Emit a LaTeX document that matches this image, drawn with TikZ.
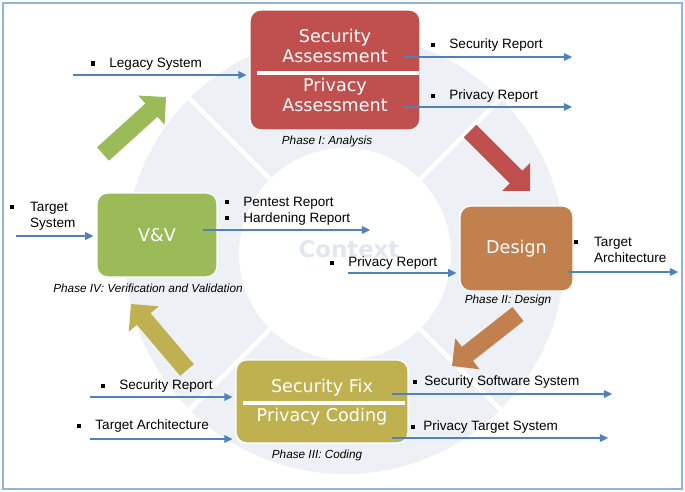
\documentclass[tikz,border=0pt]{standalone}
\usepackage{fontspec}
\setmainfont{Liberation Sans}
\newfontfamily\boxfont{DejaVu Sans}
\usetikzlibrary{arrows.meta,calc}
\definecolor{phasered}{RGB}{192,80,77}
\definecolor{phaseorange}{RGB}{193,128,77}
\definecolor{phaseolive}{RGB}{191,177,80}
\definecolor{phasegreen}{RGB}{155,187,89}
\definecolor{flowblue}{RGB}{79,129,189}
\definecolor{frameblue}{RGB}{141,180,226}
\definecolor{ringgray}{RGB}{237,241,246}
\definecolor{ringtext}{RGB}{224,231,240}
\tikzset{phase box/.style = {rounded corners = 6pt, draw = white, line width = 0.8pt, inner sep = 0pt}}
\tikzset{box text/.style = {text = white, align = center, inner sep = 0pt, font = \boxfont\fontsize{10}{11.3}\selectfont}}
\tikzset{item text/.style = {anchor = west, inner sep = 0pt, align = left, font = \fontsize{7.7}{9}\selectfont}}
\tikzset{phase caption/.style = {inner sep = 0pt, font = \fontsize{6.7}{8}\selectfont\itshape}}
\tikzset{flow/.style = {draw = flowblue, line width = 1.1pt, shorten > = 1.5pt, -{Triangle[length = 4.8pt, width = 4.2pt]}}}
\tikzset{divider/.style = {draw = white, line width = 1.8pt}}
\newcommand{\sq}{\rule[0.25ex]{2.3pt}{2.3pt}}
% block arrow between phases: colour, tail, tip
\newcommand{\phasearrow}[3]{%
  \coordinate (hb) at ($(#3)!11.2pt!(#2)$);
  \fill [#1] ($(#2)!5.1pt!90:(#3)$) -- ($(hb)!5.1pt!-90:(#2)$) -- ($(hb)!11.2pt!-90:(#2)$) -- (#3)
    -- ($(hb)!11.2pt!90:(#2)$) -- ($(hb)!5.1pt!90:(#2)$) -- ($(#2)!5.1pt!-90:(#3)$) -- cycle;}

\begin{document}
\begin{tikzpicture}[x = 0.02cm, y = -0.02cm]

  \useasboundingbox (0 , 0) rectangle (685 , 492);

  % faded background ring
  \coordinate (hub) at (345 , 254);
  \fill [ringgray, even odd rule] (hub) circle [radius = 220] (hub) circle [radius = 106];
  \foreach \a in {45 , 135 , 225 , 315}
    \draw [white, line width = 2.5pt] ($(hub) + (\a : 106)$) -- ($(hub) + (\a : 220)$);
  \node [text = ringtext, font = \boxfont\bfseries\fontsize{13}{15}\selectfont] (ctx) at (349 , 249) {Context};

  \draw [frameblue, line width = 1.2pt] (3 , 3) rectangle (682 , 489);

  % phase boxes
  \node [phase box, fill = phasered, minimum width = 3.4cm, minimum height = 2.4cm] (analysis) at (335 , 70) {};
  \node [box text] (secassess) at (335 , 46) {Security\\Assessment};
  \node [box text] (privassess) at (335 , 95) {Privacy\\Assessment};
  \draw [divider] ($(analysis.west) + (8 , 3)$) -- ($(analysis.east) + (-2 , 3)$);
  \node [phase caption] (analysiscap) at (327 , 141) {Phase I: Analysis};

  \node [phase box, fill = phaseorange, minimum width = 2.26cm, minimum height = 1.7cm, box text] (design) at (516.5 , 248.5) {Design};
  \node [phase caption] (designcap) at (508 , 300) {Phase II: Design};

  \node [phase box, fill = phaseolive, minimum width = 3.44cm, minimum height = 1.66cm] (coding) at (322 , 401.5) {};
  \node [box text] (secfix) at (322 , 388) {Security Fix};
  \node [box text] (privcoding) at (322 , 417) {Privacy Coding};
  \draw [divider] ($(coding.west) + (8 , 1.5)$) -- ($(coding.east) + (-4 , 1.5)$);
  \node [phase caption] (codingcap) at (317 , 455) {Phase III: Coding};

  \node [phase box, fill = phasegreen, minimum width = 2.4cm, minimum height = 1.68cm, box text] (vv) at (157 , 235) {V\&V};
  \node [phase caption] (vvcap) at (148 , 288) {Phase IV: Verification and Validation};

  % block arrows
  \coordinate (redtail) at (470 , 131);    \coordinate (redtip) at (530 , 191);
  \coordinate (orangetail) at (518 , 314); \coordinate (orangetip) at (452 , 366);
  \coordinate (olivetail) at (187 , 370);  \coordinate (olivetip) at (131 , 304);
  \coordinate (greentail) at (103 , 154);  \coordinate (greentip) at (166 , 97);
  \phasearrow{phasered}{redtail}{redtip}
  \phasearrow{phaseorange}{orangetail}{orangetip}
  \phasearrow{phaseolive}{olivetail}{olivetip}
  \phasearrow{phasegreen}{greentail}{greentip}

  % inputs and outputs
  \node [item text] (legacy) at (91 , 64) {\sq\hspace{8pt}Legacy System};
  \coordinate (legacysrc) at (73 , 75);
  \draw [flow] (legacysrc) -- (legacysrc -| analysis.west);

  \node [item text] (secrep) at (431 , 45) {\sq\hspace{8pt}Security Report};
  \coordinate (secrepsrc) at (403 , 57);   \coordinate (secrepdst) at (575 , 57);
  \draw [flow] (secrepsrc) -- (secrepdst);

  \node [item text] (privrep) at (431 , 96) {\sq\hspace{8pt}Privacy Report};
  \coordinate (privrepsrc) at (403 , 107); \coordinate (privrepdst) at (575 , 107);
  \draw [flow] (privrepsrc) -- (privrepdst);

  \node [item text] (designin) at (330 , 263) {\sq\hspace{8pt}Privacy Report};
  \coordinate (designsrc) at (348 , 273);
  \draw [flow] (designsrc) -- (designsrc -| design.west);

  \node [item text] (designout) at (574 , 251) {\begin{tabular}{@{}l@{\hspace{9pt}}l@{}}\sq & Target\\ & Architecture\end{tabular}};
  \coordinate (archsrc) at (567 , 272);    \coordinate (archdst) at (681 , 272);
  \draw [flow] (archsrc) -- (archdst);

  \node [item text] (codingin1) at (101 , 386) {\sq\hspace{8pt}Security Report};
  \coordinate (codingsrc1) at (90 , 397);
  \draw [flow] (codingsrc1) -- (codingsrc1 -| coding.west);

  \node [item text] (codingin2) at (77 , 426) {\sq\hspace{8pt}Target Architecture};
  \coordinate (codingsrc2) at (90 , 439);
  \draw [flow] (codingsrc2) -- (codingsrc2 -| coding.west);

  \node [item text] (codingout1) at (413 , 382) {\sq\hspace{4pt}Security Software System};
  \coordinate (swsrc) at (392 , 394);      \coordinate (swdst) at (615 , 394);
  \draw [flow] (swsrc) -- (swdst);

  \node [item text] (codingout2) at (411 , 427) {\sq\hspace{4.5pt}Privacy Target System};
  \coordinate (tgtsrc) at (392 , 438);     \coordinate (tgtdst) at (611 , 438);
  \draw [flow] (tgtsrc) -- (tgtdst);

  \node [item text] (vvin) at (10 , 216) {\begin{tabular}{@{}l@{\hspace{9pt}}l@{}}\sq & Target\\ & System\end{tabular}};
  \coordinate (vvsrc) at (16 , 236);
  \draw [flow] (vvsrc) -- (vvsrc -| vv.west);

  \node [item text] (vvout) at (225 , 211) {\begin{tabular}{@{}l@{\hspace{8pt}}l@{}}\sq & Pentest Report\\ \sq & Hardening Report\end{tabular}};
  \coordinate (reportsrc) at (203 , 230);  \coordinate (reportdst) at (373 , 230);
  \draw [flow] (reportsrc) -- (reportdst);

\end{tikzpicture}
\end{document}
